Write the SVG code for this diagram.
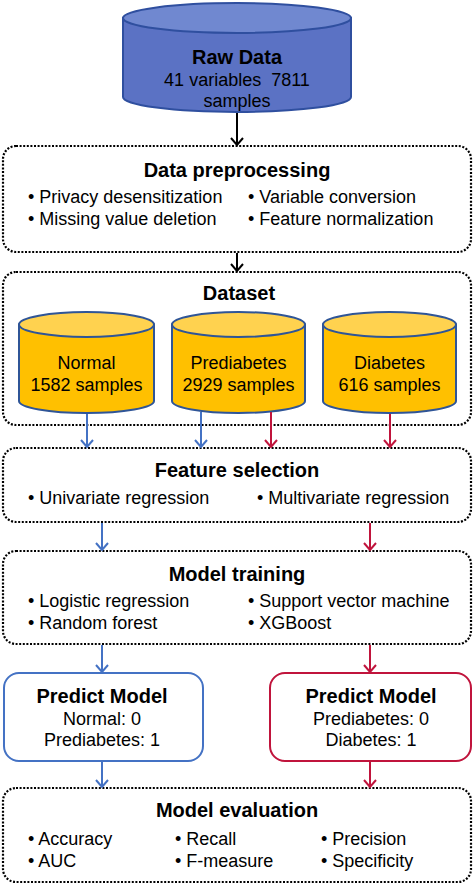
<svg xmlns="http://www.w3.org/2000/svg" width="474" height="884" viewBox="0 0 474 884">
<style>
text{font-family:"Liberation Sans",Arial,sans-serif;fill:#000}
.t{font-size:20px;font-weight:bold;text-anchor:middle}
.b{font-size:18px}
.c{font-size:18px;text-anchor:middle}
.pre{white-space:pre}
.dot{fill:#fff;stroke:#000;stroke-width:2.2;stroke-dasharray:2 1.6}
.cyl{fill:#ffc000;stroke:#2f5597;stroke-width:2}
.cylt{fill:#ffd24f;stroke:#2f5597;stroke-width:2}
.k{stroke:#000;stroke-width:2;fill:none}
.bl{stroke:#4472c4;stroke-width:2;fill:none}
.rd{stroke:#c0143c;stroke-width:2;fill:none}
</style>
<defs>
<marker id="ak" markerWidth="14" markerHeight="14" refX="7" refY="8" markerUnits="userSpaceOnUse" viewBox="0 0 14 14"><path d="M1,1 L7,8 L13,1" fill="none" stroke="#000" stroke-width="2"/></marker>
<marker id="ab" markerWidth="14" markerHeight="14" refX="7" refY="8" markerUnits="userSpaceOnUse" viewBox="0 0 14 14"><path d="M1,1 L7,8 L13,1" fill="none" stroke="#4472c4" stroke-width="2"/></marker>
<marker id="ar" markerWidth="14" markerHeight="14" refX="7" refY="8" markerUnits="userSpaceOnUse" viewBox="0 0 14 14"><path d="M1,1 L7,8 L13,1" fill="none" stroke="#c0143c" stroke-width="2"/></marker>
</defs>

<g id="raw-data">
<path d="M123,18 L123,97 A114,15 0 0,0 351,97 L351,18 Z" fill="#5b72c4" stroke="#2f4f9f" stroke-width="2"/>
<ellipse cx="237" cy="18" rx="114" ry="15" fill="#7088d0" stroke="#2f4f9f" stroke-width="2"/>
<text class="t" x="237" y="64">Raw Data</text>
<text class="c pre" x="237" y="86" xml:space="preserve">41 variables  7811</text>
<text class="c" x="237" y="107">samples</text>
</g>

<g id="data-preprocessing">
<rect class="dot" x="3" y="146" width="468" height="106" rx="13"/>
<text class="t" x="237" y="177">Data preprocessing</text>
<text class="b" x="28" y="203">• Privacy desensitization</text>
<text class="b" x="28" y="225">• Missing value deletion</text>
<text class="b" x="248" y="203">• Variable conversion</text>
<text class="b" x="248" y="225">• Feature normalization</text>
</g>

<g id="dataset">
<rect class="dot" x="3" y="272" width="468" height="153" rx="13"/>
<text class="t" x="239" y="300">Dataset</text>
<g id="normal">
<path class="cyl" d="M19,324.5 L19,401 A67.5,12 0 0,0 154,401 L154,324.5 Z"/>
<ellipse class="cylt" cx="86.5" cy="324.5" rx="67.5" ry="12.5"/>
<text class="c" x="86.5" y="369">Normal</text>
<text class="c" x="86.5" y="391">1582 samples</text>
</g>
<g id="prediabetes">
<path class="cyl" d="M172,324.5 L172,401 A66.5,12 0 0,0 305,401 L305,324.5 Z"/>
<ellipse class="cylt" cx="238.5" cy="324.5" rx="66.5" ry="12.5"/>
<text class="c" x="238.5" y="369">Prediabetes</text>
<text class="c" x="238.5" y="391">2929 samples</text>
</g>
<g id="diabetes">
<path class="cyl" d="M323,324.5 L323,401 A66.5,12 0 0,0 456,401 L456,324.5 Z"/>
<ellipse class="cylt" cx="389.5" cy="324.5" rx="66.5" ry="12.5"/>
<text class="c" x="389.5" y="369">Diabetes</text>
<text class="c" x="389.5" y="391">616 samples</text>
</g>
</g>

<g id="feature-selection">
<rect class="dot" x="3" y="448" width="468" height="74" rx="13"/>
<text class="t" x="237" y="477">Feature selection</text>
<text class="b" x="28" y="504">• Univariate regression</text>
<text class="b" x="257" y="504">• Multivariate regression</text>
</g>

<g id="model-training">
<rect class="dot" x="3" y="551" width="468" height="93" rx="13"/>
<text class="t" x="237" y="581">Model training</text>
<text class="b" x="28" y="607">• Logistic regression</text>
<text class="b" x="28" y="629">• Random forest</text>
<text class="b" x="248" y="607">• Support vector machine</text>
<text class="b" x="248" y="629">• XGBoost</text>
</g>

<g id="predict-model-1">
<rect x="4" y="673" width="199" height="88" rx="15" fill="#fff" stroke="#4472c4" stroke-width="2"/>
<text class="t" x="102" y="703">Predict Model</text>
<text class="c" x="102" y="725">Normal: 0</text>
<text class="c" x="102" y="746">Prediabetes: 1</text>
</g>

<g id="predict-model-2">
<rect x="270" y="673" width="201" height="88" rx="15" fill="#fff" stroke="#c0143c" stroke-width="2"/>
<text class="t" x="371" y="703">Predict Model</text>
<text class="c" x="371" y="725">Prediabetes: 0</text>
<text class="c" x="371" y="746">Diabetes: 1</text>
</g>

<g id="model-evaluation">
<rect class="dot" x="3" y="788" width="468" height="94" rx="13"/>
<text class="t" x="237" y="817">Model evaluation</text>
<text class="b" x="28" y="845">• Accuracy</text>
<text class="b" x="28" y="867">• AUC</text>
<text class="b" x="175" y="845">• Recall</text>
<text class="b" x="175" y="867">• F-measure</text>
<text class="b" x="321" y="845">• Precision</text>
<text class="b" x="321" y="867">• Specificity</text>
</g>

<g id="connectors">
<line class="k" x1="237" y1="113" x2="237" y2="145" marker-end="url(#ak)"/>
<line class="k" x1="237" y1="253" x2="237" y2="271" marker-end="url(#ak)"/>
<line class="bl" x1="87" y1="414" x2="87" y2="447" marker-end="url(#ab)"/>
<line class="bl" x1="201" y1="412" x2="201" y2="447" marker-end="url(#ab)"/>
<line class="rd" x1="271" y1="412" x2="271" y2="447" marker-end="url(#ar)"/>
<line class="rd" x1="390" y1="414" x2="390" y2="447" marker-end="url(#ar)"/>
<line class="bl" x1="102" y1="523" x2="102" y2="550" marker-end="url(#ab)"/>
<line class="rd" x1="370" y1="523" x2="370" y2="550" marker-end="url(#ar)"/>
<line class="bl" x1="102" y1="645" x2="102" y2="672" marker-end="url(#ab)"/>
<line class="rd" x1="370" y1="645" x2="370" y2="672" marker-end="url(#ar)"/>
<line class="bl" x1="102" y1="762" x2="102" y2="787" marker-end="url(#ab)"/>
<line class="rd" x1="370" y1="762" x2="370" y2="787" marker-end="url(#ar)"/>
</g>
</svg>
